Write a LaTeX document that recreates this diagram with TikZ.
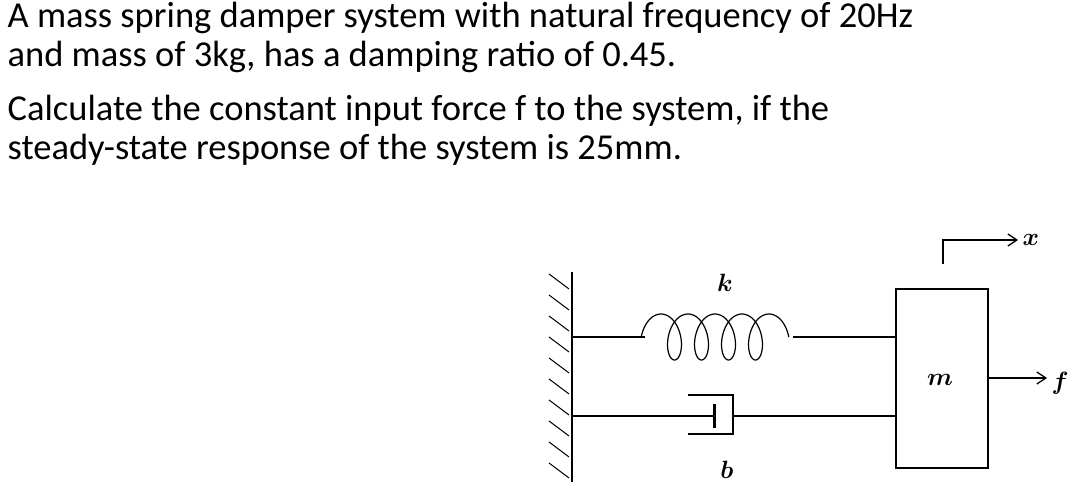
\documentclass[tikz,border=0pt]{standalone}
\usepackage{fontspec}
\usepackage{graphicx}
\usetikzlibrary{arrows.meta}
\setmainfont{Carlito}
\newcommand{\biglbl}[1]{\scalebox{2.5}{$\boldsymbol{#1}$}}
\usepackage{amsmath}
\begin{document}
\begin{tikzpicture}[x=1pt,y=-1pt,line width=1.3pt,
  lbl/.style={inner sep=0pt},
  txt/.style={anchor=north west,align=left,inner sep=0pt,font=\fontsize{36.5}{38.5}\selectfont},
  arr/.style={-{Straight Barb[length=9pt,width=12pt]}}]
\useasboundingbox (0,0) rectangle (1089,497);
\node[txt] (t1) at (7,2) {A mass spring damper system with natural frequency of 20Hz\\and mass of 3kg, has a damping ratio of 0.45.};
\node[txt] (t2) at (7,95) {Calculate the constant input force f to the system, if the\\steady-state response of the system is 25mm.};
% wall
\coordinate (wt) at (572,272);
\coordinate (wb) at (572,482);
\draw (wt) -- (wb);
\foreach \y in {274,295,...,470} \draw[line width=1pt] (549,\y) -- (569,\y+15);
% mass
\node[draw,minimum width=92pt,minimum height=179pt,inner sep=0pt] (m) at (942,378.5) {};
\node[lbl] (ml) at (940,380) {\biglbl{m}};
% spring
\coordinate (s0) at (572,337);
\coordinate (s1) at (645,337);
\coordinate (s2) at (793,337);
\draw (s0) -- (s1);
\draw[line width=1.2pt,domain=-90:1530,samples=300,smooth,variable=\t] plot ({661+\t/360*27+13*sin(\t)},{337-23*cos(\t)});
\draw (s2) -- (m.west |- s2);
\node[lbl] (k) at (725,283) {\biglbl{k}};
% damper
\coordinate (d0) at (572,416);
\coordinate (dp) at (714,416);
\draw (d0) -- (dp);
\draw[line width=3pt] (714,404) -- (714,428);
\draw (688,395) -- (733,395) -- (733,434) -- (688,434);
\draw (733,416) -- (m.west |- 0,416);
\node[lbl] (b) at (727,470) {\biglbl{b}};
% force
\coordinate (fe) at (1047,378);
\draw[arr] (m.east |- fe) -- (fe);
\node[lbl,anchor=west] (f) at (1051,383) {\biglbl{f}};
% x
\coordinate (x0) at (943,264);
\coordinate (x1) at (1018,240);
\draw[arr] (x0) |- (x1);
\node[lbl,anchor=west] (x) at (1022,240) {\biglbl{x}};
\end{tikzpicture}
\end{document}
